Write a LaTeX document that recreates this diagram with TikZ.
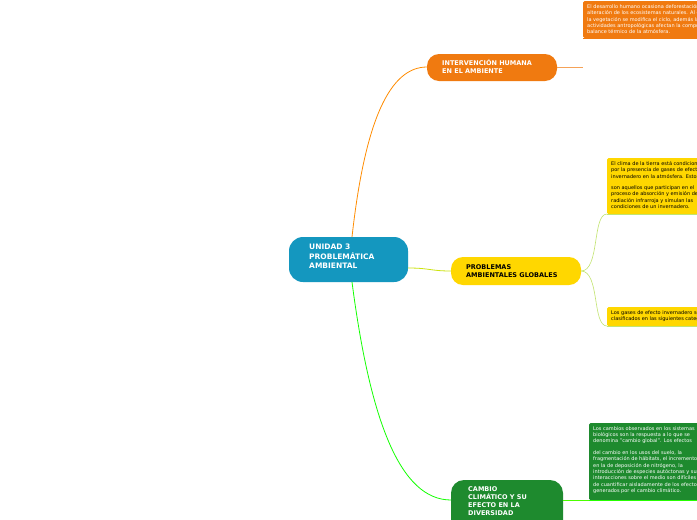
\documentclass[tikz,border=0pt]{standalone}
\usepackage{fontspec}
\setmainfont{DejaVu Sans}
\begin{document}
\begin{tikzpicture}[x=1pt,y=-1pt,
  topic/.style={text=white,font=\bfseries\fontsize{6.5}{8}\selectfont,align=left,anchor=north west,inner sep=0pt},
  note/.style={font=\fontsize{5}{6.4}\selectfont,align=left,anchor=north west,inner sep=0pt}]
\clip (0,0) rectangle (697,520);
\fill[white] (0,0) rectangle (697,520);
\definecolor{cblue}{HTML}{1497BF}
\definecolor{corange}{HTML}{F07A10}
\definecolor{cyellow}{HTML}{FFD700}
\definecolor{cgreen}{HTML}{1E8A2E}
% central
\fill[cblue,rounded corners=14pt] (289,237) rectangle (408,282);
\node[topic,font=\bfseries\fontsize{7.5}{9.5}\selectfont] (c) at (309,244) {UNIDAD 3\\PROBLEMÁTICA\\AMBIENTAL};
\coordinate (ct) at (352,237); \coordinate (cr) at (408,268); \coordinate (cb) at (352,282);
% orange
\fill[corange,rounded corners=12pt] (427,54) rectangle (557,81);
\node[topic] (o) at (442,59) {INTERVENCIÓN HUMANA\\EN EL AMBIENTE};
\coordinate (ol) at (427,67); \coordinate (or) at (557,67);
\fill[corange,rounded corners=1.5pt] (583,1) rectangle (720,38);
\node[note,text=white] (on) at (587,4) {El desarrollo humano ocasiona deforestación y\\alteración de los ecosistemas naturales. Al cambiar\\la vegetación se modifica el ciclo, además las\\actividades antropológicas afectan la composición y el\\balance térmico de la atmósfera.};
\draw[corange,line width=0.8pt] (583,38) -- (697,38);
% yellow
\fill[cyellow,rounded corners=12pt] (451,257) rectangle (581,285);
\node[topic,text=black] (y) at (466,264) {PROBLEMAS\\AMBIENTALES GLOBALES};
\coordinate (yl) at (451,271); \coordinate (yr) at (581,271);
\fill[cyellow,rounded corners=1.5pt] (607,158) rectangle (720,214);
\node[note,text=black] (y1) at (611,161) {El clima de la tierra está condicionado\\por la presencia de gases de efecto\\invernadero en la atmósfera. Estos\\[5pt]son aquellos que participan en el\\proceso de absorción y emisión de\\radiación infrarroja y simulan las\\condiciones de un invernadero.};
\fill[cyellow,rounded corners=1.5pt] (607,307) rectangle (720,326);
\node[note,text=black] (y2) at (611,310) {Los gases de efecto invernadero son\\clasificados en las siguientes categorías};
\draw[yellow!60!green!60,line width=0.8pt] (607,214) -- (697,214) (607,326) -- (697,326);
% green
\fill[cgreen,rounded corners=13pt] (451,480) rectangle (563,540);
\node[topic] (g) at (468,486) {CAMBIO\\CLIMÁTICO Y SU\\EFECTO EN LA\\DIVERSIDAD};
\coordinate (gl) at (451,500); \coordinate (gr) at (563,500);
\fill[cgreen,rounded corners=1.5pt] (589,423) rectangle (720,500);
\node[note,text=white] (gn) at (593,426) {Los cambios observados en los sistemas\\biológicos son la respuesta a lo que se\\denomina "cambio global". Los efectos\\[5pt]del cambio en los usos del suelo, la\\fragmentación de hábitats, el incremento\\en la de deposición de nitrógeno, la\\introducción de especies autóctonas y sus\\interacciones sobre el medio son difíciles\\de cuantificar aisladamente de los efectos\\generados por el cambio climático.};
\draw[green!80!lime,line width=1pt] (589,500) -- (697,500);
% connectors
\draw[orange!90!yellow,line width=0.8pt] (ct) .. controls (365,120) and (390,67) .. (ol);
\draw[corange!70,line width=0.6pt] (or) -- (583,67);
\draw[yellow!80!green,line width=0.8pt] (cr) .. controls (430,268) and (430,271) .. (yl);
\draw[yellow!60!green!60,line width=0.6pt] (yr) .. controls (600,271) and (592,214) .. (607,214);
\draw[yellow!60!green!60,line width=0.6pt] (yr) .. controls (600,271) and (592,326) .. (607,326);
\draw[green!90!lime,line width=0.8pt] (cb) .. controls (370,420) and (400,500) .. (gl);
\draw[green!60!lime,line width=0.6pt] (gr) -- (589,500);
\end{tikzpicture}
\end{document}
